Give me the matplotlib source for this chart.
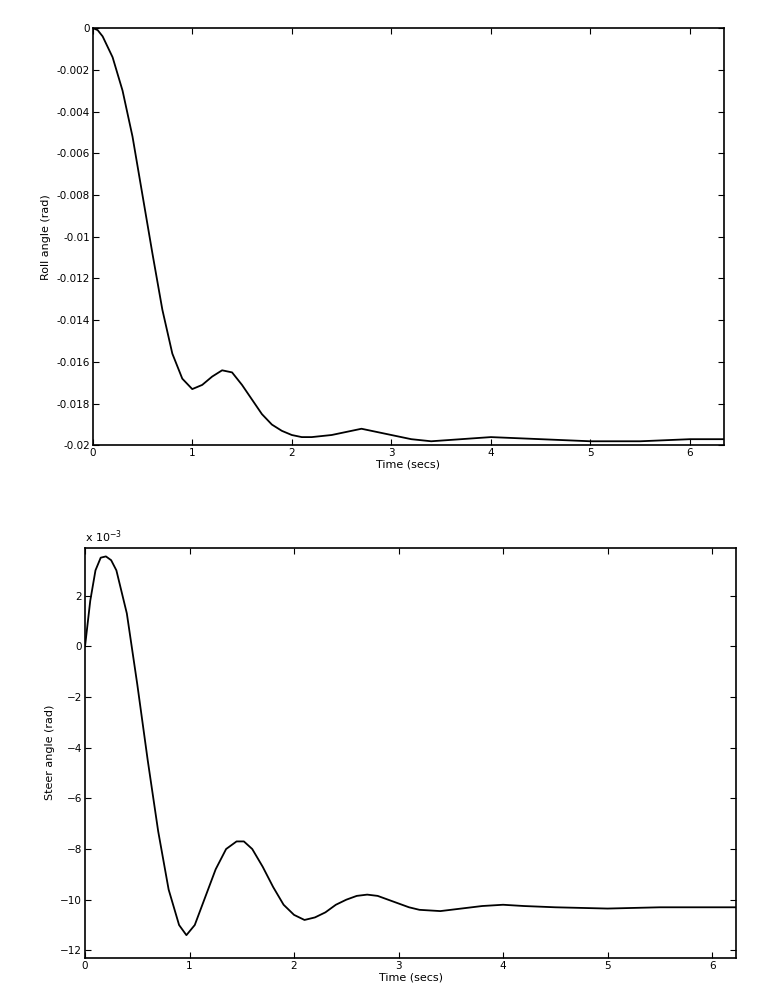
import matplotlib
matplotlib.use("Agg")
import matplotlib.pyplot as plt
import numpy as np

t_roll = [0,0.05,0.1,0.2,0.3,0.4,0.5,0.6,0.7,0.8,0.9,1.0,1.1,1.2,1.3,1.4,1.5,1.6,1.7,1.8,1.9,2.0,2.1,2.2,2.4,2.6,2.7,2.8,3.0,3.2,3.4,3.7,4.0,4.5,5.0,5.5,6.0,6.35]
roll = [0,-0.0001,-0.0004,-0.0014,-0.003,-0.0052,-0.0080,-0.0108,-0.0135,-0.0156,-0.0168,-0.0173,-0.0171,-0.0167,-0.0164,-0.0165,-0.0171,-0.0178,-0.0185,-0.0190,-0.0193,-0.0195,-0.0196,-0.0196,-0.0195,-0.0193,-0.0192,-0.0193,-0.0195,-0.0197,-0.0198,-0.0197,-0.0196,-0.0197,-0.0198,-0.0198,-0.0197,-0.0197]

t_steer = [0,0.05,0.1,0.15,0.2,0.25,0.3,0.4,0.5,0.6,0.7,0.8,0.9,0.97,1.05,1.15,1.25,1.35,1.45,1.52,1.6,1.7,1.8,1.9,2.0,2.1,2.2,2.3,2.4,2.5,2.6,2.7,2.8,2.9,3.0,3.1,3.2,3.4,3.6,3.8,4.0,4.2,4.5,5.0,5.5,6.0,6.25]
steer = [0,1.8,3.0,3.5,3.55,3.4,3.0,1.3,-1.5,-4.5,-7.3,-9.6,-11.0,-11.4,-11.0,-9.9,-8.8,-8.0,-7.7,-7.7,-8.0,-8.7,-9.5,-10.2,-10.6,-10.8,-10.7,-10.5,-10.2,-10.0,-9.85,-9.8,-9.85,-10.0,-10.15,-10.3,-10.4,-10.45,-10.35,-10.25,-10.2,-10.25,-10.3,-10.35,-10.3,-10.3,-10.3]

fig = plt.figure(figsize=(7.66,10.01), dpi=100)
ax1 = fig.add_axes([0.121,0.555,0.824,0.417])
ax1.plot(t_roll, roll, color='black', lw=1.3)
ax1.set_xlim(0,6.34); ax1.set_ylim(-0.02,0)
ax1.set_yticks(np.arange(-0.02,0.0001,0.002))
ax1.set_yticklabels(['-0.02','-0.018','-0.016','-0.014','-0.012','-0.01','-0.008','-0.006','-0.004','-0.002','0'])
ax1.set_xticks(range(7))
ax1.set_xlabel('Time (secs)', fontsize=8, labelpad=1)
ax1.set_ylabel('Roll angle (rad)', fontsize=8)

ax2 = fig.add_axes([0.111,0.043,0.850,0.410])
ax2.plot(t_steer, steer, color='black', lw=1.3)
ax2.set_xlim(0,6.23); ax2.set_ylim(-12.3,3.9)
ax2.set_yticks(range(-12,3,2))
ax2.set_xticks(range(7))
ax2.set_xlabel('Time (secs)', fontsize=8, labelpad=1)
ax2.set_ylabel('Steer angle (rad)', fontsize=8)
ax2.text(0.0, 1.005, r'x 10$^{-3}$', transform=ax2.transAxes, fontsize=8, va='bottom')

for ax in (ax1, ax2):
    ax.tick_params(labelsize=7.5, direction='in', length=4, top=True, right=True, pad=2)
    for s in ax.spines.values():
        s.set_linewidth(1.2)
fig.savefig('out.png', dpi=100)
